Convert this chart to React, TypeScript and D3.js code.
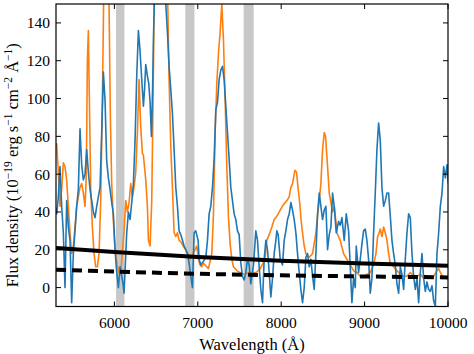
import * as d3 from "d3";

// spectrum values: [wavelength (Å), flux]
const orangeSpec: [number, number][] = [
  [5300, 74], [5308, 76], [5328, 61], [5348, 43], [5368, 52], [5388, 66], [5408, 64],
  [5428, 57], [5448, 43], [5468, 29], [5488, 18], [5508, 22], [5528, 32], [5548, 43],
  [5568, 48], [5588, 53], [5608, 55], [5628, 50], [5648, 43], [5660, 55], [5668, 80],
  [5676, 120], [5688, 136], [5700, 100], [5716, 53], [5736, 32], [5756, 18], [5776, 11],
  [5796, 11], [5816, 18], [5836, 46], [5856, 99], [5868, 140], [5882, 200], [5906, 260],
  [5924, 200], [5936, 150], [5952, 90], [5968, 55], [5988, 35], [6008, 20], [6032, 12],
  [6056, 8], [6080, 10], [6098, 20], [6116, 30], [6136, 46], [6156, 40], [6176, 45],
  [6196, 55], [6216, 48], [6236, 53], [6256, 61], [6276, 82], [6296, 110], [6316, 85],
  [6336, 71], [6348, 70], [6376, 57], [6396, 43], [6408, 25], [6428, 22], [6448, 46],
  [6464, 100], [6476, 150], [6500, 230], [6572, 280], [6636, 160], [6656, 110], [6676, 75],
  [6696, 53], [6716, 29], [6736, 27], [6756, 29], [6776, 25], [6800, 24], [6824, 22],
  [6856, 20], [6884, 18], [6908, 15], [6932, 17], [6956, 19], [6988, 22], [7008, 15],
  [7028, 12], [7048, 11], [7068, 13], [7088, 12], [7108, 11], [7128, 10], [7148, 14],
  [7168, 18], [7188, 39], [7208, 82], [7228, 108], [7248, 124], [7268, 135], [7288, 150],
  [7308, 131], [7328, 99], [7348, 64], [7368, 37], [7388, 23], [7408, 15], [7428, 11],
  [7468, 9], [7508, 8], [7556, 7], [7608, 8], [7652, 8], [7700, 8], [7748, 10],
  [7784, 13], [7808, 16], [7828, 25], [7856, 28], [7888, 32], [7916, 36], [7952, 38],
  [7988, 41], [8028, 44], [8068, 46], [8096, 48], [8116, 53], [8136, 55], [8164, 62],
  [8184, 61], [8204, 52], [8224, 44], [8240, 35], [8256, 29], [8276, 22], [8296, 18],
  [8336, 16], [8376, 18], [8416, 29], [8436, 38], [8456, 46], [8476, 55], [8496, 73],
  [8516, 82], [8532, 80], [8556, 64], [8576, 50], [8596, 45], [8616, 40], [8636, 43],
  [8656, 35], [8668, 29], [8708, 25], [8748, 18], [8788, 15], [8828, 12], [8868, 9],
  [8908, 8], [8948, 6], [8996, 6], [9068, 8], [9108, 12], [9136, 18], [9156, 27],
  [9168, 28], [9188, 31], [9208, 27], [9228, 32], [9248, 29], [9268, 25], [9288, 18],
  [9308, 13], [9348, 11], [9388, 9], [9428, 7], [9468, 6], [9508, 6], [9548, 8],
  [9588, 6], [9628, 6], [9668, 7], [9708, 5], [9748, 6], [9788, 5], [9828, 6],
  [9868, 9], [9888, 10], [9908, 8], [9948, 5], [9988, 5], [10004, 5],
];

const blueSpec: [number, number][] = [
  [5300, 42], [5308, 39], [5328, 48], [5348, 64], [5368, 43], [5388, 29], [5408, 0],
  [5428, 46], [5448, 32], [5468, 25], [5488, -8], [5508, 18], [5528, 30], [5548, 43],
  [5568, 52], [5588, 84], [5608, 65], [5628, 57], [5648, 60], [5668, 73], [5688, 61],
  [5708, 52], [5728, 46], [5748, 40], [5768, 37], [5788, 43], [5808, 48], [5828, 53],
  [5848, 82], [5868, 114], [5888, 99], [5908, 67], [5928, 58], [5948, 52], [5968, 45],
  [5988, 39], [6008, 20], [6028, 8], [6048, 0], [6068, 11], [6088, 6], [6104, 2],
  [6116, -3], [6148, 29], [6168, 40], [6188, 36], [6208, 45], [6228, 55], [6248, 78],
  [6268, 112], [6288, 136], [6308, 125], [6328, 110], [6348, 96], [6362, 105], [6376, 118],
  [6396, 112], [6412, 108], [6428, 98], [6444, 80], [6458, 105], [6470, 135], [6488, 165],
  [6524, 230], [6572, 250], [6616, 150], [6636, 135], [6656, 117], [6676, 105], [6696, 92],
  [6716, 73], [6736, 53], [6756, 43], [6776, 30], [6796, 28], [6816, 25], [6836, 22],
  [6856, 20], [6876, 18], [6896, 13], [6916, 6], [6936, 0], [6956, 29], [6976, 30],
  [7004, 25], [7016, 15], [7036, 12], [7068, 14], [7096, 16], [7116, 25], [7136, 39],
  [7156, 43], [7176, 53], [7196, 68], [7216, 94], [7236, 98], [7256, 110], [7276, 115],
  [7296, 117], [7316, 110], [7336, 96], [7356, 82], [7376, 68], [7396, 53], [7416, 46],
  [7436, 39], [7456, 36], [7476, 30], [7496, 28], [7516, 13], [7536, 6], [7556, 4],
  [7576, 8], [7596, 15], [7616, 12], [7636, 2], [7668, 12], [7696, 30], [7716, 25],
  [7736, 11], [7756, -1], [7776, -8], [7796, 15], [7816, 25], [7836, 20], [7856, 8],
  [7876, -5], [7896, 5], [7916, 18], [7936, 25], [7948, 30], [7964, 28], [7988, 15],
  [8016, 12], [8036, 25], [8056, 30], [8076, 36], [8096, 39], [8116, 45], [8136, 41],
  [8156, 36], [8176, 29], [8196, 18], [8216, 8], [8236, -1], [8256, -8], [8276, 0],
  [8296, 16], [8316, 18], [8336, 11], [8356, 15], [8376, 6], [8396, -1], [8416, 18],
  [8436, 39], [8456, 50], [8476, 43], [8496, 36], [8516, 41], [8536, 43], [8556, 20],
  [8576, 28], [8596, 32], [8616, 50], [8636, 43], [8660, 29], [8688, 35], [8708, 33],
  [8728, 37], [8756, 25], [8780, 39], [8808, 30], [8828, 11], [8848, -8], [8868, 5],
  [8888, 0], [8900, 22], [8928, 8], [8948, 15], [8968, 23], [8988, 30], [9008, 31],
  [9028, 25], [9048, 15], [9068, -3], [9088, 5], [9108, 29], [9128, 50], [9148, 73],
  [9168, 87], [9188, 78], [9208, 53], [9228, 43], [9248, 46], [9268, 50], [9288, 50],
  [9308, 38], [9328, 25], [9348, 18], [9368, 12], [9388, 2], [9408, -3], [9428, 11],
  [9448, 7], [9468, -1], [9488, 15], [9508, 29], [9528, 39], [9548, 37], [9568, 18],
  [9588, 6], [9608, -1], [9628, 5], [9648, -8], [9668, 8], [9688, 18], [9708, 5],
  [9728, -2], [9748, 3], [9768, -1], [9788, -2], [9808, 1], [9828, -7], [9848, -10],
  [9868, 18], [9888, 29], [9908, 43], [9928, 50], [9948, 64], [9968, 58], [9988, 65],
  [10004, 55],
];

// continuum models
const solidModel: [number, number][] = [
  [5300, 21], [6000, 18.8], [7000, 16.2], [8000, 14.2], [9000, 12.7], [10000, 11.6],
];
const dashedModel: [number, number][] = [
  [5300, 9.5], [6000, 8.5], [7000, 7.3], [8000, 6.5], [9000, 5.9], [10000, 5.4],
];

// telluric bands [start, end]
const bands: [number, number][] = [
  [6020, 6120],
  [6850, 6960],
  [7550, 7670],
];

const xTicks = [6000, 7000, 8000, 9000, 10000];
const yTicks = [0, 20, 40, 60, 80, 100, 120, 140];

export default function App() {
  const width = 474;
  const height = 354;
  const margin = { top: 4, right: 26, bottom: 47.5, left: 56 };
  const x0 = margin.left;
  const x1 = width - margin.right;
  const y0 = margin.top;
  const y1 = height - margin.bottom;

  const x = d3.scaleLinear().domain([5300, 10000]).range([x0, x1]);
  const y = d3.scaleLinear().domain([-10, 150]).range([y1, y0]);

  const spec = d3
    .line<[number, number]>()
    .x((d) => x(d[0]))
    .y((d) => y(d[1]));

  const smooth = d3
    .line<[number, number]>()
    .x((d) => x(d[0]))
    .y((d) => y(d[1]))
    .curve(d3.curveMonotoneX);

  const font = "'Liberation Serif', 'DejaVu Serif', serif";
  const tickLen = 5;
  const tickFont = 15.5;
  const labelFont = 16.5;

  return (
    <svg
      width={width}
      height={height}
      style={{ position: "absolute", left: 0, top: 0, background: "#fff" }}
      fontFamily={font}
    >
      <defs>
        <clipPath id="plot">
          <rect x={x0} y={y0} width={x1 - x0} height={y1 - y0} />
        </clipPath>
      </defs>
      <g clipPath="url(#plot)">
        {bands.map(([a, b]) => (
          <rect
            key={a}
            x={x(a)}
            y={y0}
            width={x(b) - x(a)}
            height={y1 - y0}
            fill="#c8c8c8"
          />
        ))}
        <path d={spec(orangeSpec) ?? undefined} fill="none" stroke="#ff7f0e" strokeWidth={1.6} strokeLinejoin="round" />
        <path d={spec(blueSpec) ?? undefined} fill="none" stroke="#1f77b4" strokeWidth={1.6} strokeLinejoin="round" />
        <path d={smooth(solidModel) ?? undefined} fill="none" stroke="#000" strokeWidth={4} />
        <path d={smooth(dashedModel) ?? undefined} fill="none" stroke="#000" strokeWidth={4} strokeDasharray="10,6" />
      </g>

      {/* ticks, inward on all four sides */}
      {xTicks.map((t) => (
        <g key={t}>
          <line x1={x(t)} x2={x(t)} y1={y1} y2={y1 - tickLen} stroke="#000" />
          <line x1={x(t)} x2={x(t)} y1={y0} y2={y0 + tickLen} stroke="#000" />
          <text x={x(t)} y={y1 + 21} textAnchor="middle" fontSize={tickFont} fill="#000">
            {t}
          </text>
        </g>
      ))}
      {yTicks.map((t) => (
        <g key={t}>
          <line x1={x0} x2={x0 + tickLen} y1={y(t)} y2={y(t)} stroke="#000" />
          <line x1={x1} x2={x1 - tickLen} y1={y(t)} y2={y(t)} stroke="#000" />
          <text x={x0 - 6} y={y(t)} dy="0.35em" textAnchor="end" fontSize={tickFont} fill="#000">
            {t}
          </text>
        </g>
      ))}

      <rect x={x0} y={y0} width={x1 - x0} height={y1 - y0} fill="none" stroke="#000" strokeWidth={1.2} />

      <text x={(x0 + x1) / 2} y={height - 4} textAnchor="middle" fontSize={labelFont} fill="#000">
        Wavelength (Å)
      </text>
      <text
        transform={`translate(18,${(y0 + y1) / 2 + 10}) rotate(-90)`}
        textAnchor="middle"
        fontSize={labelFont}
        fill="#000"
      >
        Flux density (10
        <tspan fontSize={11.5} dy={-6.5}>−19</tspan>
        <tspan dy={6.5}> erg s</tspan>
        <tspan fontSize={11.5} dy={-6.5}>−1</tspan>
        <tspan dy={6.5}> cm</tspan>
        <tspan fontSize={11.5} dy={-6.5}>−2</tspan>
        <tspan dy={6.5}> Å</tspan>
        <tspan fontSize={11.5} dy={-6.5}>−1</tspan>
        <tspan dy={6.5}>)</tspan>
      </text>
    </svg>
  );
}
